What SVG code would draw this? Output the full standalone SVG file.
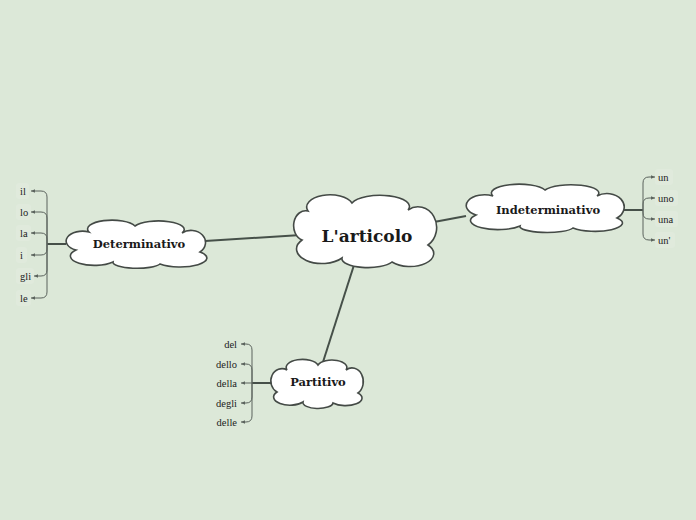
<svg xmlns="http://www.w3.org/2000/svg" width="696" height="520" viewBox="0 0 696 520">
<defs>
<marker id="arr" viewBox="0 0 6 6" refX="6" refY="3" markerWidth="4" markerHeight="4" orient="auto">
<path d="M0,0.5 L6,3 L0,5.5 z" fill="#5b635d"/>
</marker>
<style>
.bg{fill:#dce8d8}
.main{stroke:#465049;stroke-width:2;fill:none}
.sub{stroke:#5b635d;stroke-width:1;fill:none;marker-end:url(#arr)}
.trunk{stroke:#465049;stroke-width:2;fill:none}
.cloud{fill:#ffffff;stroke:#444a46;stroke-width:1.6}
.t1{font-family:"DejaVu Serif","Liberation Serif",serif;font-weight:bold;fill:#1a1a1a;text-anchor:middle}
.c{font-family:"Liberation Serif","DejaVu Serif",serif;font-size:10.5px;fill:#222}
.box{fill:#ffffff;opacity:0.12}
</style>
</defs>
<rect class="bg" x="0" y="0" width="696" height="520"/>
<g id="connectors">
<line class="main" x1="301" y1="235" x2="205" y2="241"/>
<line class="main" x1="434" y1="222" x2="466" y2="216"/>
<line class="main" x1="354" y1="265" x2="323" y2="362"/>
<line class="trunk" x1="66" y1="244" x2="47" y2="244"/>
<path class="sub" d="M47,244 V197 Q47,191 41,191 H31"/>
<path class="sub" d="M47,244 V218 Q47,212 41,212 H31"/>
<path class="sub" d="M47,244 V239 Q47,233 41,233 H31"/>
<path class="sub" d="M47,244 V249 Q47,255 41,255 H31"/>
<path class="sub" d="M47,244 V270 Q47,276 41,276 H34"/>
<path class="sub" d="M47,244 V292 Q47,298 41,298 H31"/>
<line class="trunk" x1="624" y1="210" x2="643" y2="210"/>
<path class="sub" d="M643,210 V183 Q643,177 649,177 H655"/>
<path class="sub" d="M643,210 V204 Q643,198 649,198 H655"/>
<path class="sub" d="M643,210 V213 Q643,219 649,219 H655"/>
<path class="sub" d="M643,210 V234 Q643,240 649,240 H655"/>
<line class="trunk" x1="271" y1="383" x2="252" y2="383"/>
<path class="sub" d="M252,383 V350 Q252,344 246,344 H241"/>
<path class="sub" d="M252,383 V370 Q252,364 246,364 H241"/>
<path class="sub" d="M252,383 H241"/>
<path class="sub" d="M252,383 V397 Q252,403 246,403 H241"/>
<path class="sub" d="M252,383 V416 Q252,422 246,422 H241"/>
</g>
<g id="node-central">
<path class="cloud" d="M308,211 A23 12 0 0 1 352,203 A29 11 0 0 1 408,210 A18 20 0 0 1 428,245 A20 11 0 0 1 392,262 A26 9 0 0 1 342,258 A21 12 0 0 1 302,240 A12 15 0 0 1 308,211 Z"/>
<text class="t1" x="367" y="242" font-size="17">L'articolo</text>
</g>
<g id="node-determinativo">
<path class="cloud" d="M89,232 A22 8 0 0 1 135,226 A24 8 0 0 1 182,233 A12 10 0 0 1 200,252 A21 7 0 0 1 160,264 A24 6 0 0 1 113,262 A18 7 0 0 1 76,250 A15 9 0 0 1 89,232 Z"/>
<text class="t1" x="139" y="248" font-size="11.5">Determinativo</text>
</g>
<g id="node-indeterminativo">
<path class="cloud" d="M493,196 A25 8 0 0 1 545,190 A27 8 0 0 1 597,196 A14 11 0 0 1 617,218 A23 7 0 0 1 573,228 A27 6 0 0 1 520,226 A21 7 0 0 1 476,215 A17 10 0 0 1 493,196 Z"/>
<text class="t1" x="548" y="214" font-size="11.5">Indeterminativo</text>
</g>
<g id="node-partitivo">
<path class="cloud" d="M287,370 A14 7 0 0 1 318,365 A14 7 0 0 1 346,370 A10 12 0 0 1 358,393 A13 6 0 0 1 333,403 A15 6 0 0 1 303,402 A12 6 0 0 1 277,392 A10 11 0 0 1 287,370 Z"/>
<text class="t1" x="318" y="386" font-size="11.5">Partitivo</text>
</g>
<g id="det-children">
<g id="c-il"><rect class="box" x="16" y="183" width="13" height="16" rx="3"/><text class="c" x="20" y="194.5">il</text></g>
<g id="c-lo"><rect class="box" x="16" y="204" width="15" height="16" rx="3"/><text class="c" x="20" y="215.5">lo</text></g>
<g id="c-la"><rect class="box" x="16" y="225" width="15" height="16" rx="3"/><text class="c" x="20" y="236.5">la</text></g>
<g id="c-i"><rect class="box" x="16" y="247" width="11" height="16" rx="3"/><text class="c" x="20" y="258.5">i</text></g>
<g id="c-gli"><rect class="box" x="16" y="268" width="18" height="16" rx="3"/><text class="c" x="20" y="279.5">gli</text></g>
<g id="c-le"><rect class="box" x="16" y="290" width="15" height="16" rx="3"/><text class="c" x="20" y="301.5">le</text></g>
</g>
<g id="indet-children">
<g id="c-un"><rect class="box" x="655" y="169" width="18" height="16" rx="3"/><text class="c" x="658" y="180.5">un</text></g>
<g id="c-uno"><rect class="box" x="655" y="190" width="23" height="16" rx="3"/><text class="c" x="658" y="201.5">uno</text></g>
<g id="c-una"><rect class="box" x="655" y="211" width="23" height="16" rx="3"/><text class="c" x="658" y="222.5">una</text></g>
<g id="c-un2"><rect class="box" x="655" y="232" width="20" height="16" rx="3"/><text class="c" x="658" y="243.5">un'</text></g>
</g>
<g id="part-children" text-anchor="end">
<g id="c-del"><text class="c" x="237" y="347.5" text-anchor="end">del</text></g>
<g id="c-dello"><text class="c" x="237" y="367.5" text-anchor="end">dello</text></g>
<g id="c-della"><text class="c" x="237" y="386.5" text-anchor="end">della</text></g>
<g id="c-degli"><text class="c" x="237" y="406.5" text-anchor="end">degli</text></g>
<g id="c-delle"><text class="c" x="237" y="425.5" text-anchor="end">delle</text></g>
</g>
</svg>
